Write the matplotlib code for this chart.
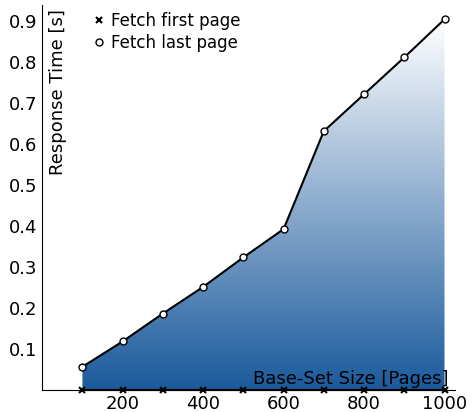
import numpy as np
import matplotlib.pyplot as plt
from matplotlib.colors import LinearSegmentedColormap

# Base-set size vs response time
sizes = [100, 200, 300, 400, 500, 600, 700, 800, 900, 1000]
first_page = [0.0, 0.0, 0.0, 0.0, 0.0, 0.0, 0.0, 0.0, 0.0, 0.0]
last_page = [0.057, 0.119, 0.187, 0.252, 0.324, 0.393, 0.632, 0.722, 0.812, 0.905]

fig = plt.figure(figsize=(4.74, 4.12), dpi=100)
ax = fig.add_axes([0.089, 0.053, 0.87, 0.935])
ax.set_xlim(0, 1025)
ax.set_ylim(0, 0.94)

# Gradient fill under the curve: dark at the bottom, white at the top
cmap = LinearSegmentedColormap.from_list('g', ['#ffffff', '#1a5a9c'])
grad = np.linspace(1, 0, 256).reshape(-1, 1)
im = ax.imshow(grad, cmap=cmap, aspect='auto', extent=[sizes[0], sizes[-1], 0, max(last_page)],
               origin='lower', zorder=1)
poly = ax.fill_between(sizes, 0, last_page, facecolor='none', edgecolor='none')
clip = poly.get_paths()[0]
im.set_clip_path(clip, transform=ax.transData)

ax.plot(sizes, last_page, color='black', lw=1.5, marker='o', mfc='white', mec='black',
        ms=5, label='Fetch last page', zorder=3)
ax.plot(sizes, first_page, color='black', lw=1.5, marker='x', ms=5, mew=1.5,
        label='Fetch first page', zorder=3, clip_on=False)

for s in ['top', 'right']:
    ax.spines[s].set_visible(False)
ax.set_xticks([200, 400, 600, 800, 1000])
ax.set_yticks([0.1, 0.2, 0.3, 0.4, 0.5, 0.6, 0.7, 0.8, 0.9])
ax.tick_params(labelsize=13, length=0)
ax.text(1010, 0.005, 'Base-Set Size [Pages]', ha='right', va='bottom', fontsize=13)
ax.text(40, 0.93, 'Response Time [s]', rotation=90, ha='center', va='top', fontsize=13)

h, l = ax.get_legend_handles_labels()
leg = ax.legend([h[1], h[0]], [l[1], l[0]], loc='upper left', bbox_to_anchor=(0.09, 1.02),
                frameon=False, fontsize=12, handlelength=0.6, handletextpad=0.4,
                labelspacing=0.2)
for hh in leg.legend_handles:
    hh.set_linestyle('none')

fig.savefig('out.png', dpi=100)
